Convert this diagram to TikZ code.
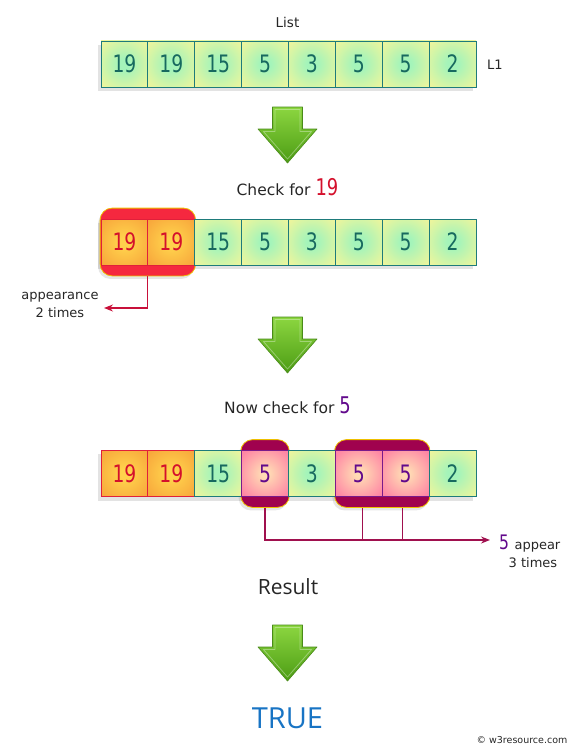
\documentclass[tikz,border=0pt]{standalone}
\usepackage{fontspec}
\setmainfont{DejaVu Sans}
\newfontfamily\numfont[FakeStretch=0.78]{DejaVu Sans}
\newfontfamily\bigfont{Open Sans}
\usetikzlibrary{positioning,fit,shadows,backgrounds,arrows.meta}

\definecolor{cellline}{HTML}{1E7B7B}
\definecolor{celltext}{HTML}{17695F}
\definecolor{greenin}{HTML}{A4F4BA}
\definecolor{greenout}{HTML}{EEF59C}
\definecolor{orangein}{HTML}{FFD24C}
\definecolor{orangeout}{HTML}{F7A33A}
\definecolor{redline}{HTML}{E0203A}
\definecolor{redtext}{HTML}{D4102C}
\definecolor{redbox}{HTML}{F5283F}
\definecolor{goldline}{HTML}{EEC000}
\definecolor{magbox}{HTML}{A0024E}
\definecolor{pinkin}{HTML}{FFDAB4}
\definecolor{pinkout}{HTML}{FF86A4}
\definecolor{purpleline}{HTML}{7A1A8A}
\definecolor{purpletext}{HTML}{62098C}
\definecolor{redarrow}{HTML}{C8103A}
\definecolor{magarrow}{HTML}{A0104E}
\definecolor{trueblue}{HTML}{1874C4}
\definecolor{darktext}{HTML}{262626}
\definecolor{arrowtop}{HTML}{8CD640}
\definecolor{arrowbot}{HTML}{4C9C14}
\definecolor{arrowline}{HTML}{4A8A1A}

\pgfdeclareradialshading{greenglow}{\pgfpoint{0bp}{0bp}}{color(0bp)=(greenin); color(6bp)=(greenin); color(34bp)=(greenout); color(70bp)=(greenout)}
\pgfdeclareradialshading{orangeglow}{\pgfpoint{0bp}{0bp}}{color(0bp)=(orangein); color(5bp)=(orangein); color(36bp)=(orangeout); color(70bp)=(orangeout)}
\pgfdeclareradialshading{pinkglow}{\pgfpoint{0bp}{0bp}}{color(0bp)=(pinkin); color(4bp)=(pinkin); color(32bp)=(pinkout); color(70bp)=(pinkout)}

\begin{document}
\begin{tikzpicture}[x=1pt,y=-1pt,
    cell/.style={draw=cellline,line width=0.8pt,minimum width=46.875pt,minimum height=46pt,inner sep=0pt,
      font=\numfont\fontsize{24}{24}\selectfont,text=celltext,shade,shading=greenglow},
    hotcell/.style={cell,draw=redline,text=redtext,shading=orangeglow},
    pinkcell/.style={cell,draw=purpleline,text=purpletext,shading=pinkglow},
    rowshadow/.style={fill=white,inner sep=0pt,drop shadow={shadow xshift=-3pt,shadow yshift=-4pt,opacity=0.22}},
    hilite/.style={rounded corners=12pt,draw=goldline,line width=0.8pt,inner xsep=0.5pt,inner ysep=10.5pt,
      drop shadow={shadow xshift=-2pt,shadow yshift=-3pt,opacity=0.2}},
    lbl/.style={font=\fontsize{13}{18.5}\selectfont,text=darktext,align=center},
    head/.style={font=\fontsize{15.5}{18}\selectfont,text=darktext},
    pics/greendown/.style={code={
      \draw[arrowline,line width=0.6pt,top color=arrowtop,bottom color=arrowbot,line join=round]
        (-15,0) -- (15,0) -- (15,22) -- (29.5,22) -- (0,56) -- (-29.5,22) -- (-15,22) -- cycle;
      \draw[white,opacity=0.35,line width=0.8pt,line join=round]
        (-12.5,2.5) -- (12.5,2.5) -- (12.5,24.5) -- (24,24.5) -- (0,52) -- (-24,24.5) -- (-12.5,24.5) -- cycle;
    }},
  ]
\useasboundingbox (0,0) rectangle (579,752);

% row 1 : the list
\node[head,font=\fontsize{13.5}{16}\selectfont] (list) at (287.5,22) {List};
\foreach \v [count=\i] in {19,19,15,5,3,5,5,2}
  \node[cell] (a\i) at ({101+46.875*(\i-0.5)},64) {\v};
\node[lbl,font=\fontsize{13}{15}\selectfont] (lone) at (495,65) {L1};
\begin{scope}[on background layer]
  \node[rowshadow,fit=(a1)(a8)] (arow) {};
\end{scope}

\pic at (287.5,107) {greendown};

% row 2 : check for 19
\node[head] (chk) at (287.5,187) {Check for \textcolor{redtext}{\numfont\fontsize{23}{23}\selectfont 19}};
\foreach \v/\s [count=\i] in {19/hotcell,19/hotcell,15/cell,5/cell,3/cell,5/cell,5/cell,2/cell}
  \node[\s] (b\i) at ({101+46.875*(\i-0.5)},242) {\v};
\begin{scope}[on background layer]
  \node[rowshadow,fit=(b1)(b8)] (brow) {};
  \node[hilite,fill=redbox,fit=(b1)(b2)] (hb) {};
\end{scope}
\node[lbl] (app) at (60,305) {appearance\\2 times};
\coordinate (appEnd) at (104,308);
\draw[redarrow,line width=1.2pt,-{Stealth[length=9pt,width=7pt,inset=3pt]}] (hb.south) |- (appEnd);

\pic at (287.5,317) {greendown};

% row 3 : now check for 5
\node[head] (now) at (287.5,405) {Now check for \textcolor{purpletext}{\numfont\fontsize{23}{23}\selectfont 5}};
\foreach \v/\s [count=\i] in {19/hotcell,19/hotcell,15/cell,5/pinkcell,3/cell,5/pinkcell,5/pinkcell,2/cell}
  \node[\s] (c\i) at ({101+46.875*(\i-0.5)},473.5) {\v};
\begin{scope}[on background layer]
  \node[rowshadow,fit=(c1)(c8)] (crow) {};
  \node[hilite,fill=magbox,fit=(c4)] (hc1) {};
  \node[hilite,fill=magbox,fit=(c6)(c7)] (hc2) {};
\end{scope}
\coordinate (fiveEnd) at (490,540);
\draw[magarrow,line width=1.2pt,-{Stealth[length=9pt,width=7pt,inset=3pt]}] (hc1.south) |- (fiveEnd);
\draw[magarrow,line width=1.2pt] ([xshift=-20pt]hc2.south) -- ([xshift=-20pt]hc2.south |- fiveEnd);
\draw[magarrow,line width=1.2pt] ([xshift=20pt]hc2.south) -- ([xshift=20pt]hc2.south |- fiveEnd);
\node[anchor=base west,inner sep=0pt,text=purpletext,font=\numfont\fontsize{20}{20}\selectfont] (five) at (499,549) {5};
\node[lbl,anchor=base west,inner sep=0pt,font=\fontsize{13}{15}\selectfont] (appr) at ([xshift=5pt]five.base east) {appear};
\node[lbl,font=\fontsize{13}{15}\selectfont] (times) at (533,563) {3 times};

% result
\node[text=darktext,font=\bigfont\fontsize{21}{24}\selectfont] (res) at (288,587) {Result};
\pic at (287.5,625) {greendown};
\node[text=trueblue,font=\bigfont\fontsize{29}{30}\selectfont] (true) at (287.5,718) {TRUE};

\node[text=darktext,font=\fontsize{9.5}{11}\selectfont] (copy) at (522,740) {© w3resource.com};
\end{tikzpicture}
\end{document}
